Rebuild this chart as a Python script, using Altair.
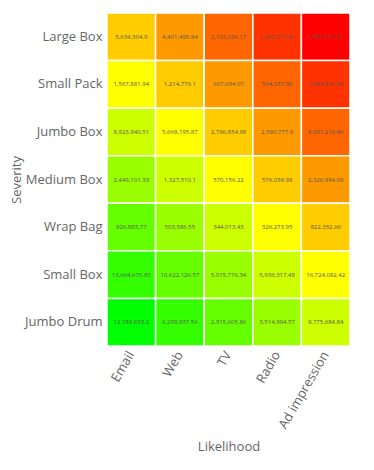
import altair as alt
import pandas as pd

likelihood = ["Email", "Web", "TV", "Radio", "Ad impression"]
severity = ["Large Box", "Small Pack", "Jumbo Box", "Medium Box", "Wrap Bag", "Small Box", "Jumbo Drum"]
values = [
    ["5,634,304.9", "4,401,495.84", "2,103,036.17", "1,262,775.56", "5,499,160.67"],
    ["1,567,881.94", "1,214,776.1", "607,694.07", "564,537.98", "1,335,831.38"],
    ["8,923,940.51", "5,668,195.87", "2,796,854.98", "2,580,777.9", "8,931,210.46"],
    ["2,449,101.33", "1,327,510.1", "570,156.22", "576,039.98", "2,326,994.09"],
    ["926,883.77", "503,586.55", "344,013.43", "326,273.95", "822,352.66"],
    ["13,664,676.83", "10,622,126.57", "5,015,776.34", "5,936,317.48", "16,724,082.42"],
    ["12,189,833.2", "6,299,937.56", "2,315,605.86", "3,514,994.57", "9,775,684.84"],
]
palette = ["#00ff00", "#33ff00", "#66ff00", "#99ff00", "#ccff00", "#ffff00",
           "#ffcc00", "#ff9900", "#ff6600", "#ff3300", "#ff0000"]

rows = []
n = len(severity)
for i, s in enumerate(severity):
    for j, l in enumerate(likelihood):
        rows.append({"Severity": s, "Likelihood": l, "label": values[i][j],
                     "level": (n - 1 - i) + j})
df = pd.DataFrame(rows)

base = alt.Chart(df).encode(
    x=alt.X("Likelihood:N", sort=likelihood,
            axis=alt.Axis(labelAngle=-60, domain=False, ticks=False, labelPadding=6,
                          labelFontSize=13, labelColor="#666", titleColor="#666",
                          titleFontSize=13, titleFontWeight="normal", titlePadding=10,
                          labelFont="Open Sans", titleFont="Open Sans")),
    y=alt.Y("Severity:N", sort=severity,
            axis=alt.Axis(domain=False, ticks=False, labelPadding=5,
                          labelFontSize=13, labelColor="#666", titleColor="#666",
                          titleFontSize=13, titleFontWeight="normal", titlePadding=1,
                          labelFont="Open Sans", titleFont="Open Sans")),
)

rects = base.mark_rect(stroke="white", strokeWidth=1.5).encode(
    color=alt.Color("level:O", scale=alt.Scale(domain=list(range(11)), range=palette), legend=None)
)
texts = base.mark_text(fontSize=6, color="#555", font="Open Sans").encode(text="label:N")

chart = (rects + texts).properties(
    width=243, height=333,
    padding={"left": 2, "top": 4, "right": 5, "bottom": 5},
).configure_view(stroke=None)
chart.save("out.html", embed_options={"renderer": "svg", "actions": False})
